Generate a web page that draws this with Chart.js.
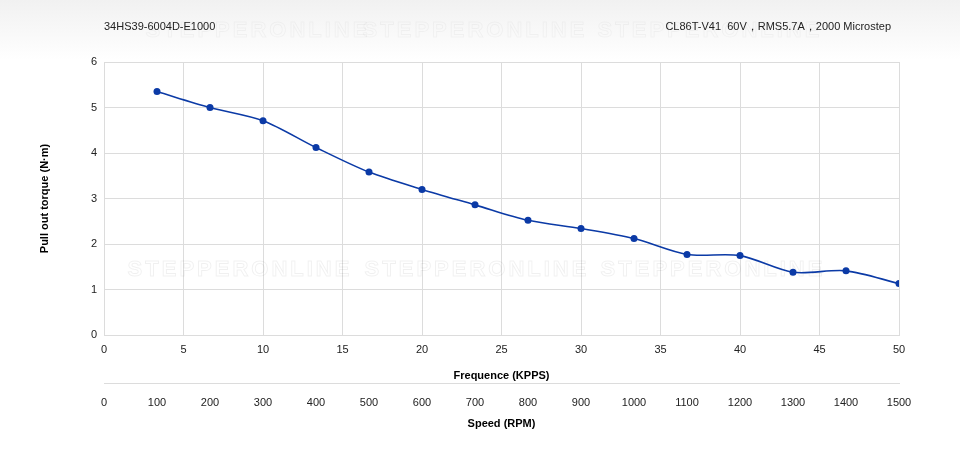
<!DOCTYPE html>
<html>
<head>
<meta charset="utf-8">
<script src="https://cdn.jsdelivr.net/npm/chart.js@4/dist/chart.umd.min.js"></script>
<style>
  html, body { margin: 0; padding: 0; background: #fff; }
  #wrap { width: 960px; height: 458px; position: relative; }
</style>
</head>
<body>
<div id="wrap"><canvas id="c" width="960" height="458"></canvas></div>
<script>
// ---- data ----
const speedRPM = [100, 200, 300, 400, 500, 600, 700, 800, 900, 1000, 1100, 1200, 1300, 1400, 1500];
const torqueNm = [5.35, 5.00, 4.71, 4.12, 3.58, 3.20, 2.86, 2.52, 2.34, 2.12, 1.77, 1.745, 1.38, 1.41, 1.13];
const freqTicks = [0, 5, 10, 15, 20, 25, 30, 35, 40, 45, 50];
const speedTicks = [0, 100, 200, 300, 400, 500, 600, 700, 800, 900, 1000, 1100, 1200, 1300, 1400, 1500];
const torqueTicks = [0, 1, 2, 3, 4, 5, 6];
const titleLeft = "34HS39-6004D-E1000";
const titleRight = "CL86T-V41  60V，RMS5.7A，2000 Microstep";
const watermark = "STEPPERONLINE";

const FONT = "'Liberation Sans', Arial, sans-serif";
const GRID = '#dcdcdc';

const bgPlugin = {
  id: 'bg',
  beforeDraw(chart) {
    const ctx = chart.ctx;
    ctx.save();
    const g = ctx.createLinearGradient(0, 0, 0, 60);
    g.addColorStop(0, '#f1f1f1');
    g.addColorStop(1, '#ffffff');
    ctx.fillStyle = g;
    ctx.fillRect(0, 0, chart.width, 60);
    ctx.fillStyle = '#ffffff';
    ctx.fillRect(0, 60, chart.width, chart.height - 60);
    ctx.restore();
  },
  beforeDatasetsDraw(chart) {
    const ctx = chart.ctx;
    ctx.save();
    ctx.font = "bold 22px " + FONT;
    ctx.textAlign = 'center';
    ctx.textBaseline = 'middle';
    ctx.strokeStyle = 'rgba(0,0,0,0.06)';
    ctx.lineWidth = 1;
    if ('letterSpacing' in ctx) ctx.letterSpacing = '3px';
    [240, 477, 713].forEach(x => {
      ctx.strokeText(watermark, x, 270);
    });
    ctx.restore();
  },
  afterDraw(chart) {
    const ctx = chart.ctx;
    const a = chart.chartArea;
    ctx.save();
    ctx.font = "bold 22px " + FONT;
    ctx.textAlign = 'center';
    ctx.textBaseline = 'middle';
    ctx.strokeStyle = 'rgba(0,0,0,0.035)';
    if ('letterSpacing' in ctx) ctx.letterSpacing = '3px';
    [258, 475, 710].forEach(x => ctx.strokeText(watermark, x, 31));
    ctx.restore();
    ctx.save();
    ctx.font = "11px " + FONT;
    ctx.fillStyle = '#222';
    ctx.textBaseline = 'middle';
    ctx.textAlign = 'left';
    ctx.fillText(titleLeft, a.left, 27);
    ctx.textAlign = 'right';
    ctx.fillText(titleRight, a.right - 8, 27);
    ctx.restore();
  }
};

const plainTick = (v) => String(v);

new Chart(document.getElementById('c'), {
  type: 'line',
  data: {
    datasets: [{
      data: speedRPM.map((s, i) => ({ x: s, y: torqueNm[i] })),
      xAxisID: 'x2',
      yAxisID: 'y',
      borderColor: '#0b3aa6',
      backgroundColor: '#0b3aa6',
      borderWidth: 1.6,
      pointRadius: 3.5,
      pointHoverRadius: 3.5,
      pointBorderWidth: 0,
      tension: 0.3,
      fill: false
    }]
  },
  options: {
    responsive: false,
    animation: false,
    events: [],
    layout: { padding: { top: 62, right: 61, bottom: 0, left: 0 } },
    plugins: { legend: { display: false }, tooltip: { enabled: false }, title: { display: false } },
    scales: {
      y: {
        type: 'linear',
        position: 'left',
        min: 0, max: 6,
        afterBuildTicks(scale) { scale.ticks = torqueTicks.map(v => ({ value: v })); },
        afterFit(scale) { scale.width = 104; },
        grid: { color: GRID, drawTicks: false, lineWidth: 1 },
        border: { color: GRID },
        ticks: { color: '#222', font: { family: FONT, size: 11 }, padding: 7, callback: plainTick },
        title: { display: true, text: 'Pull out torque (N·m)', color: '#000', font: { family: FONT, size: 11, weight: 'bold' }, padding: { top: 38, bottom: 0 } }
      },
      x: {
        type: 'linear',
        position: 'bottom',
        weight: 0,
        min: 0, max: 50,
        afterBuildTicks(scale) { scale.ticks = freqTicks.map(v => ({ value: v })); },
        afterFit(scale) { scale.height = 48; },
        grid: { color: GRID, drawTicks: false },
        border: { color: GRID },
        ticks: { color: '#222', font: { family: FONT, size: 11 }, padding: 8, maxRotation: 0, callback: plainTick },
        title: { display: true, text: 'Frequence (KPPS)', color: '#000', font: { family: FONT, size: 11, weight: 'bold' }, padding: { top: 8, bottom: 0 } }
      },
      x2: {
        type: 'linear',
        position: 'bottom',
        weight: 1,
        min: 0, max: 1500,
        afterBuildTicks(scale) { scale.ticks = speedTicks.map(v => ({ value: v })); },
        afterFit(scale) { scale.height = 75; },
        grid: { display: false, drawTicks: false },
        border: { display: true, color: GRID },
        ticks: { color: '#222', font: { family: FONT, size: 11 }, padding: 13, maxRotation: 0, autoSkip: false, callback: plainTick },
        title: { display: true, text: 'Speed (RPM)', color: '#000', font: { family: FONT, size: 11, weight: 'bold' }, padding: { top: 10, bottom: 27 } }
      }
    }
  },
  plugins: [bgPlugin]
});
</script>
</body>
</html>
